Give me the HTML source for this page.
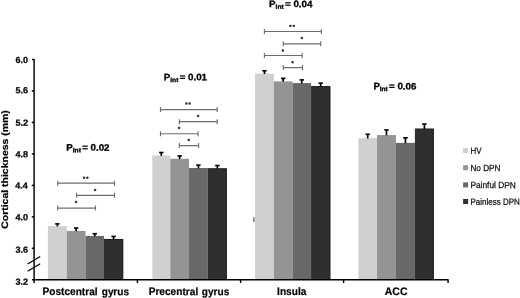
<!DOCTYPE html>
<html lang="en">
<head>
<meta charset="utf-8">
<title>Cortical thickness by region</title>
<style>
html,body{margin:0;padding:0;background:#fff;}
body{width:520px;height:298px;overflow:hidden;}
svg{display:block;}
text{font-family:"Liberation Sans",Arial,sans-serif;}
.b{font-weight:bold;}
</style>
</head>
<body>
<svg width="520" height="298" viewBox="0 0 520 298">
<rect x="0" y="0" width="520" height="298" fill="#ffffff"/>

<rect x="47.90" y="226.10" width="18.95" height="53.65" fill="#d0d0d0"/>
<rect x="66.85" y="230.90" width="18.65" height="48.85" fill="#949494"/>
<rect x="85.50" y="235.95" width="18.50" height="43.80" fill="#686868"/>
<rect x="104.00" y="239.00" width="19.15" height="40.75" fill="#2f2f2f"/>
<path d="M104.30 239.40H122.75V279.75" stroke="#1d1d1d" stroke-width="0.8" fill="none"/>
<path d="M57.38 226.40V223.90" stroke="#000" stroke-width="1.7" fill="none"/>
<path d="M55.17 223.90H59.58" stroke="#000" stroke-width="1.6" fill="none"/>
<path d="M76.17 231.20V228.00" stroke="#000" stroke-width="1.7" fill="none"/>
<path d="M73.97 228.00H78.38" stroke="#000" stroke-width="1.6" fill="none"/>
<path d="M94.75 236.25V233.70" stroke="#000" stroke-width="1.7" fill="none"/>
<path d="M92.55 233.70H96.95" stroke="#000" stroke-width="1.6" fill="none"/>
<path d="M113.58 239.30V236.40" stroke="#000" stroke-width="1.7" fill="none"/>
<path d="M111.38 236.40H115.78" stroke="#000" stroke-width="1.6" fill="none"/>
<rect x="152.30" y="155.50" width="17.97" height="124.25" fill="#d0d0d0"/>
<rect x="170.27" y="158.75" width="18.73" height="121.00" fill="#949494"/>
<rect x="189.00" y="168.00" width="18.83" height="111.75" fill="#686868"/>
<rect x="207.83" y="168.35" width="19.02" height="111.40" fill="#2f2f2f"/>
<path d="M208.13 168.75H226.45V279.75" stroke="#1d1d1d" stroke-width="0.8" fill="none"/>
<path d="M161.29 155.80V152.50" stroke="#000" stroke-width="1.7" fill="none"/>
<path d="M159.09 152.50H163.49" stroke="#000" stroke-width="1.6" fill="none"/>
<path d="M179.63 159.05V155.90" stroke="#000" stroke-width="1.7" fill="none"/>
<path d="M177.44 155.90H181.83" stroke="#000" stroke-width="1.6" fill="none"/>
<path d="M198.42 168.30V165.10" stroke="#000" stroke-width="1.7" fill="none"/>
<path d="M196.22 165.10H200.62" stroke="#000" stroke-width="1.6" fill="none"/>
<path d="M217.34 168.65V165.50" stroke="#000" stroke-width="1.7" fill="none"/>
<path d="M215.14 165.50H219.54" stroke="#000" stroke-width="1.6" fill="none"/>
<rect x="255.07" y="73.70" width="18.80" height="206.05" fill="#d0d0d0"/>
<rect x="273.87" y="81.40" width="18.63" height="198.35" fill="#949494"/>
<rect x="292.50" y="83.10" width="18.55" height="196.65" fill="#686868"/>
<rect x="311.05" y="86.15" width="19.25" height="193.60" fill="#2f2f2f"/>
<path d="M311.35 86.55H329.90V279.75" stroke="#1d1d1d" stroke-width="0.8" fill="none"/>
<path d="M264.47 74.00V70.75" stroke="#000" stroke-width="1.7" fill="none"/>
<path d="M262.27 70.75H266.67" stroke="#000" stroke-width="1.6" fill="none"/>
<path d="M283.19 81.70V78.40" stroke="#000" stroke-width="1.7" fill="none"/>
<path d="M280.99 78.40H285.38" stroke="#000" stroke-width="1.6" fill="none"/>
<path d="M301.77 83.40V79.90" stroke="#000" stroke-width="1.7" fill="none"/>
<path d="M299.57 79.90H303.97" stroke="#000" stroke-width="1.6" fill="none"/>
<path d="M320.68 86.45V83.15" stroke="#000" stroke-width="1.7" fill="none"/>
<path d="M318.48 83.15H322.88" stroke="#000" stroke-width="1.6" fill="none"/>
<rect x="358.40" y="138.15" width="18.60" height="141.60" fill="#d0d0d0"/>
<rect x="377.00" y="135.10" width="19.00" height="144.65" fill="#949494"/>
<rect x="396.00" y="142.90" width="18.90" height="136.85" fill="#686868"/>
<rect x="414.90" y="128.70" width="19.00" height="151.05" fill="#2f2f2f"/>
<path d="M415.20 129.10H433.50V279.75" stroke="#1d1d1d" stroke-width="0.8" fill="none"/>
<path d="M367.70 138.45V134.25" stroke="#000" stroke-width="1.7" fill="none"/>
<path d="M365.50 134.25H369.90" stroke="#000" stroke-width="1.6" fill="none"/>
<path d="M386.50 135.40V129.90" stroke="#000" stroke-width="1.7" fill="none"/>
<path d="M384.30 129.90H388.70" stroke="#000" stroke-width="1.6" fill="none"/>
<path d="M405.45 143.20V137.80" stroke="#000" stroke-width="1.7" fill="none"/>
<path d="M403.25 137.80H407.65" stroke="#000" stroke-width="1.6" fill="none"/>
<path d="M424.40 129.00V124.00" stroke="#000" stroke-width="1.7" fill="none"/>
<path d="M422.20 124.00H426.60" stroke="#000" stroke-width="1.6" fill="none"/>
<rect x="253.0" y="217.1" width="1.7" height="4.9" fill="#8c8c8c"/>
<path d="M32.0 59.4H34.1V282.9" stroke="#000" stroke-width="1.45" fill="none" stroke-linejoin="round"/>
<path d="M32.0 279.75H448.1V283.0" stroke="#000" stroke-width="1.4" fill="none" stroke-linejoin="round"/>
<path d="M31.8 248.29H34.1" stroke="#000" stroke-width="1.5" fill="none"/>
<path d="M31.8 216.83H34.1" stroke="#000" stroke-width="1.5" fill="none"/>
<path d="M31.8 185.37H34.1" stroke="#000" stroke-width="1.5" fill="none"/>
<path d="M31.8 153.91H34.1" stroke="#000" stroke-width="1.5" fill="none"/>
<path d="M31.8 122.45H34.1" stroke="#000" stroke-width="1.5" fill="none"/>
<path d="M31.8 90.99H34.1" stroke="#000" stroke-width="1.5" fill="none"/>
<path d="M137.4 279.75V283.0" stroke="#000" stroke-width="1.4" fill="none"/>
<path d="M240.6 279.75V283.0" stroke="#000" stroke-width="1.4" fill="none"/>
<path d="M343.6 279.75V283.0" stroke="#000" stroke-width="1.4" fill="none"/>
<path d="M27.6 264.0L40.2 256.5M27.6 271.2L40.2 263.7" stroke="#000" stroke-width="1.2" fill="none"/>
<text class="b" transform="translate(15.58 62.95) rotate(0.05) scale(1.0284 1)" font-size="8.80" fill="#000" stroke="#000" stroke-width="0.25">6.0</text>
<text class="b" transform="translate(15.54 93.35) rotate(0.05) scale(1.0284 1)" font-size="8.80" fill="#000" stroke="#000" stroke-width="0.25">5.6</text>
<text class="b" transform="translate(15.58 125.75) rotate(0.05) scale(1.0284 1)" font-size="8.80" fill="#000" stroke="#000" stroke-width="0.25">5.2</text>
<text class="b" transform="translate(15.49 157.35) rotate(0.05) scale(1.0284 1)" font-size="8.80" fill="#000" stroke="#000" stroke-width="0.25">4.8</text>
<text class="b" transform="translate(15.27 188.55) rotate(0.05) scale(1.0284 1)" font-size="8.80" fill="#000" stroke="#000" stroke-width="0.25">4.4</text>
<text class="b" transform="translate(15.58 220.35) rotate(0.05) scale(1.0284 1)" font-size="8.80" fill="#000" stroke="#000" stroke-width="0.25">4.0</text>
<text class="b" transform="translate(15.54 252.65) rotate(0.05) scale(1.0284 1)" font-size="8.80" fill="#000" stroke="#000" stroke-width="0.25">3.6</text>
<text class="b" transform="translate(15.58 284.65) rotate(0.05) scale(1.0284 1)" font-size="8.80" fill="#000" stroke="#000" stroke-width="0.25">3.2</text>
<text class="b" transform="translate(8.0 228.82) rotate(-90.05) scale(1.1125 1)" font-size="9.42" fill="#000" stroke="#000" stroke-width="0.2">Cortical thickness (mm)</text>
<text class="b" transform="translate(42.44 295.10) rotate(0.05) scale(0.9320 1)" font-size="10.87" fill="#000" dx="0 0 0 0 0 0 0 0 0 0 0 0 1.36 0 -0.19 0 0" stroke="#000" stroke-width="0.2">Postcentral gyrus</text>
<text class="b" transform="translate(148.64 295.10) rotate(0.05) scale(0.9320 1)" font-size="10.87" fill="#000" dx="0 0 0 0 0 0 0 0 0 0 0 0.74 0 0.03 0 0" stroke="#000" stroke-width="0.2">Precentral gyrus</text>
<text class="b" transform="translate(277.09 295.10) rotate(0.05) scale(0.9362 1)" font-size="10.87" fill="#000" stroke="#000" stroke-width="0.2">Insula</text>
<text class="b" transform="translate(384.74 295.10) rotate(0.05) scale(0.9678 1)" font-size="10.87" fill="#000" stroke="#000" stroke-width="0.2">ACC</text>
<text class="b" transform="translate(66.17 150.60) rotate(0.05) scale(1.0484 1)" font-size="9.30" fill="#000" stroke="#000" stroke-width="0.3">P<tspan dx="0.09" dy="1.70" font-size="6.32">Int</tspan><tspan dx="1.28" dy="-1.70">= 0.02</tspan></text>
<text class="b" transform="translate(163.67 80.25) rotate(0.05) scale(1.0484 1)" font-size="9.30" fill="#000" stroke="#000" stroke-width="0.3">P<tspan dx="0.09" dy="1.70" font-size="6.32">Int</tspan><tspan dx="1.28" dy="-1.70">= 0.01</tspan></text>
<text class="b" transform="translate(268.97 7.10) rotate(0.05) scale(1.0484 1)" font-size="9.30" fill="#000" stroke="#000" stroke-width="0.3">P<tspan dx="0.09" dy="1.70" font-size="6.32">Int</tspan><tspan dx="1.28" dy="-1.70">= 0.04</tspan></text>
<text class="b" transform="translate(373.47 89.35) rotate(0.05) scale(1.0484 1)" font-size="9.30" fill="#000" stroke="#000" stroke-width="0.3">P<tspan dx="-0.22" dy="1.70" font-size="6.32">Int</tspan><tspan dx="1.12" dy="-1.70">= 0.06</tspan></text>
<path d="M57.7 183.15H114.5M57.7 180.65V185.65M114.5 180.65V185.65" stroke="#6e6e6e" stroke-width="1.15" fill="none"/>
<text class="b" transform="translate(82.96 180.53) rotate(0.05)" font-size="5.6" fill="#222" stroke="#222" stroke-width="0.35" letter-spacing="1.12">**</text>
<path d="M76.6 195.35000000000002H114.5M76.6 192.85000000000002V197.85000000000002M114.5 192.85000000000002V197.85000000000002" stroke="#6e6e6e" stroke-width="1.15" fill="none"/>
<text class="b" transform="translate(94.01 192.73) rotate(0.05)" font-size="5.6" fill="#222" stroke="#222" stroke-width="0.35">*</text>
<path d="M57.7 208.05H95.5M57.7 205.55V210.55M95.5 205.55V210.55" stroke="#6e6e6e" stroke-width="1.15" fill="none"/>
<text class="b" transform="translate(74.91 204.83) rotate(0.05)" font-size="5.6" fill="#222" stroke="#222" stroke-width="0.35">*</text>
<path d="M160.5 109.55H217.2M160.5 107.05V112.05M217.2 107.05V112.05" stroke="#6e6e6e" stroke-width="1.15" fill="none"/>
<text class="b" transform="translate(185.26 106.33) rotate(0.05)" font-size="5.6" fill="#222" stroke="#222" stroke-width="0.35" letter-spacing="1.12">**</text>
<path d="M179.4 121.64999999999999H217.2M179.4 119.14999999999999V124.14999999999999M217.2 119.14999999999999V124.14999999999999" stroke="#6e6e6e" stroke-width="1.15" fill="none"/>
<text class="b" transform="translate(197.01 118.73) rotate(0.05)" font-size="5.6" fill="#222" stroke="#222" stroke-width="0.35">*</text>
<path d="M160.5 133.75H198.1M160.5 131.25V136.25M198.1 131.25V136.25" stroke="#6e6e6e" stroke-width="1.15" fill="none"/>
<text class="b" transform="translate(177.91 130.83) rotate(0.05)" font-size="5.6" fill="#222" stroke="#222" stroke-width="0.35">*</text>
<path d="M179.4 145.55H198.6M179.4 143.05V148.05M198.6 143.05V148.05" stroke="#6e6e6e" stroke-width="1.15" fill="none"/>
<text class="b" transform="translate(187.71 142.83) rotate(0.05)" font-size="5.6" fill="#222" stroke="#222" stroke-width="0.35">*</text>
<path d="M264.4 31.45H321.4M264.4 28.95V33.95M321.4 28.95V33.95" stroke="#6e6e6e" stroke-width="1.15" fill="none"/>
<text class="b" transform="translate(289.36 28.83) rotate(0.05)" font-size="5.6" fill="#222" stroke="#222" stroke-width="0.35" letter-spacing="1.12">**</text>
<path d="M283.3 43.849999999999994H320.7M283.3 41.349999999999994V46.349999999999994M320.7 41.349999999999994V46.349999999999994" stroke="#6e6e6e" stroke-width="1.15" fill="none"/>
<text class="b" transform="translate(300.71 40.83) rotate(0.05)" font-size="5.6" fill="#222" stroke="#222" stroke-width="0.35">*</text>
<path d="M264.4 55.5H302.2M264.4 53.0V58.0M302.2 53.0V58.0" stroke="#6e6e6e" stroke-width="1.15" fill="none"/>
<text class="b" transform="translate(281.71 53.13) rotate(0.05)" font-size="5.6" fill="#222" stroke="#222" stroke-width="0.35">*</text>
<path d="M283.3 67.55H302.5M283.3 65.05V70.05M302.5 65.05V70.05" stroke="#6e6e6e" stroke-width="1.15" fill="none"/>
<text class="b" transform="translate(291.61 64.93) rotate(0.05)" font-size="5.6" fill="#222" stroke="#222" stroke-width="0.35">*</text>
<rect x="463.1" y="148.00" width="5" height="5" fill="#d0d0d0"/>
<text transform="translate(470.46 153.70) rotate(0.05) scale(0.9049 1)" font-size="8.84" fill="#111" stroke="#111" stroke-width="0.25">HV</text>
<rect x="463.1" y="165.20" width="5" height="5" fill="#949494"/>
<text transform="translate(470.44 170.90) rotate(0.05) scale(0.9262 1)" font-size="8.84" fill="#111" stroke="#111" stroke-width="0.25">No DPN</text>
<rect x="463.1" y="182.40" width="5" height="5" fill="#686868"/>
<text transform="translate(470.43 188.10) rotate(0.05) scale(0.9439 1)" font-size="8.84" fill="#111" stroke="#111" stroke-width="0.25">Painful DPN</text>
<rect x="463.1" y="199.00" width="5" height="5" fill="#2f2f2f"/>
<text transform="translate(470.46 204.70) rotate(0.05) scale(0.9079 1)" font-size="8.84" fill="#111" stroke="#111" stroke-width="0.25">Painless DPN</text>
</svg>
</body>
</html>
